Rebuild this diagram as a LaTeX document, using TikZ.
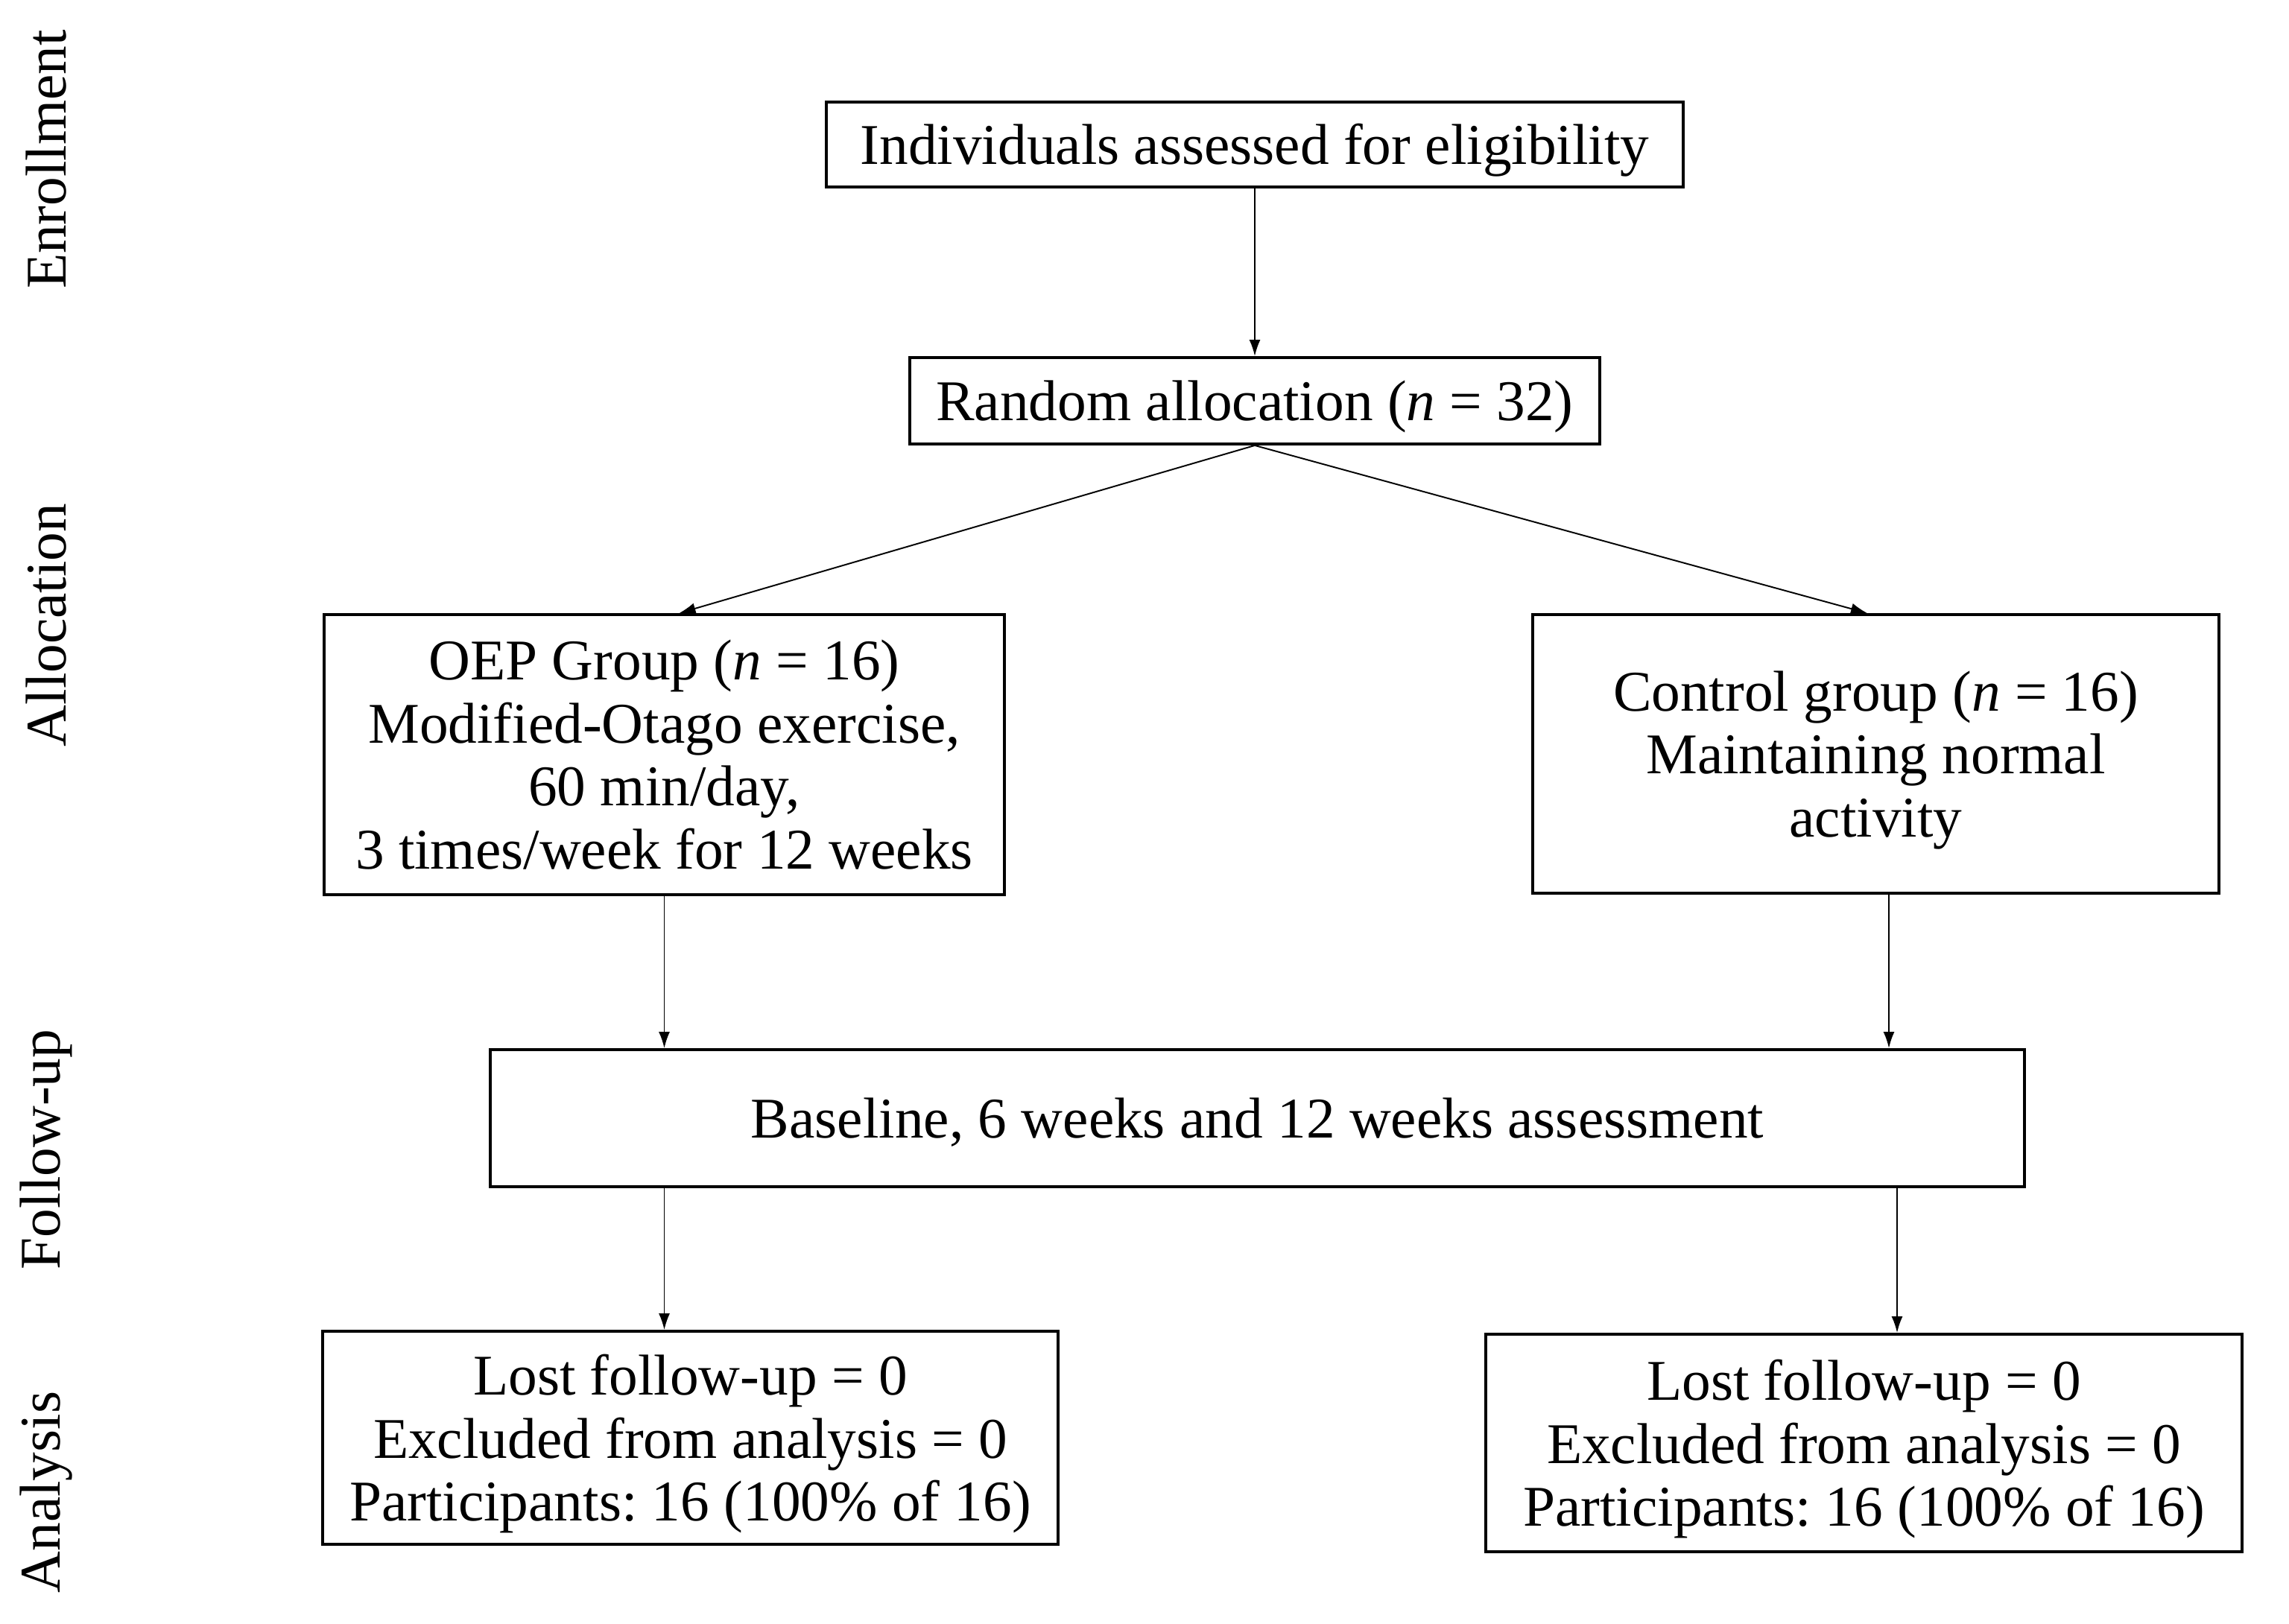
\documentclass[tikz,border=0pt]{standalone}
\usepackage{fontspec}
\setmainfont{Liberation Serif}
\usetikzlibrary{arrows.meta}
\frenchspacing
\begin{document}
\begin{tikzpicture}[x=1cm,y=1cm,
  box/.style={draw=black, line width=1.1pt, align=center, inner sep=0pt,
    font=\fontsize{22}{24.1}\selectfont},
  onebox/.style={box, text height=15.2pt, text depth=0pt},
  conn/.style={line width=0.55pt, -{Latex[length=0.22cm,width=0.15cm]}},
  phase/.style={rotate=90, font=\fontsize{22}{24}\selectfont, inner sep=0pt}]
\useasboundingbox[fill=white] (0,0) rectangle (30.72,-21.80);

\node[phase] (l1) at (0.62,-2.14) {Enrollment};
\node[phase] (l2) at (0.62,-8.39) {Allocation};
\node[phase] (l3) at (0.62,-15.43) {Follow-up};
\node[phase] (l4) at (0.62,-20.03) {Analysis};

\node[onebox, minimum width=11.50cm, minimum height=1.14cm] (ind) at (16.84,-1.94)
  {Individuals assessed for eligibility};
\node[onebox, minimum width=9.26cm, minimum height=1.16cm] (rnd) at (16.84,-5.38)
  {Random allocation (\textit{n} = 32)};
\node[box, minimum width=9.13cm, minimum height=3.76cm] (oep) at (8.915,-10.13)
  {OEP Group (\textit{n} = 16)\\Modified-Otago exercise,\\60 min/day,\\3 times/week for 12 weeks};
\node[box, minimum width=9.21cm, minimum height=3.74cm] (ctl) at (25.175,-10.12)
  {Control group (\textit{n} = 16)\\Maintaining normal\\\smash{activity}};
\node[onebox, minimum width=20.59cm, minimum height=1.84cm] (base) at (16.875,-15.01)
  {Baseline, 6 weeks and 12 weeks assessment};
\node[box, minimum width=9.87cm, minimum height=2.86cm] (lostL) at (9.265,-19.30)
  {Lost follow-up = 0\\Excluded from analysis = 0\\\smash{Participants: 16 (100\% of 16)}};
\node[box, minimum width=10.15cm, minimum height=2.92cm] (lostR) at (25.015,-19.37)
  {Lost follow-up = 0\\Excluded from analysis = 0\\\smash{Participants: 16 (100\% of 16)}};

\draw[conn] (ind.south) -- (rnd.north);
\draw[conn] (rnd.south) -- ([xshift=0.2cm]oep.north);
\draw[conn] (rnd.south) -- ([xshift=-0.115cm]ctl.north);
\draw[conn] (oep.south) -- (oep.south |- base.north);
\draw[conn] ([xshift=0.175cm]ctl.south) -- ([xshift=0.175cm]ctl.south |- base.north);
\draw[conn] (oep.south |- base.south) -- (oep.south |- lostL.north);
\draw[conn] ([xshift=0.445cm]lostR.north |- base.south) -- ([xshift=0.445cm]lostR.north);
\end{tikzpicture}
\end{document}
